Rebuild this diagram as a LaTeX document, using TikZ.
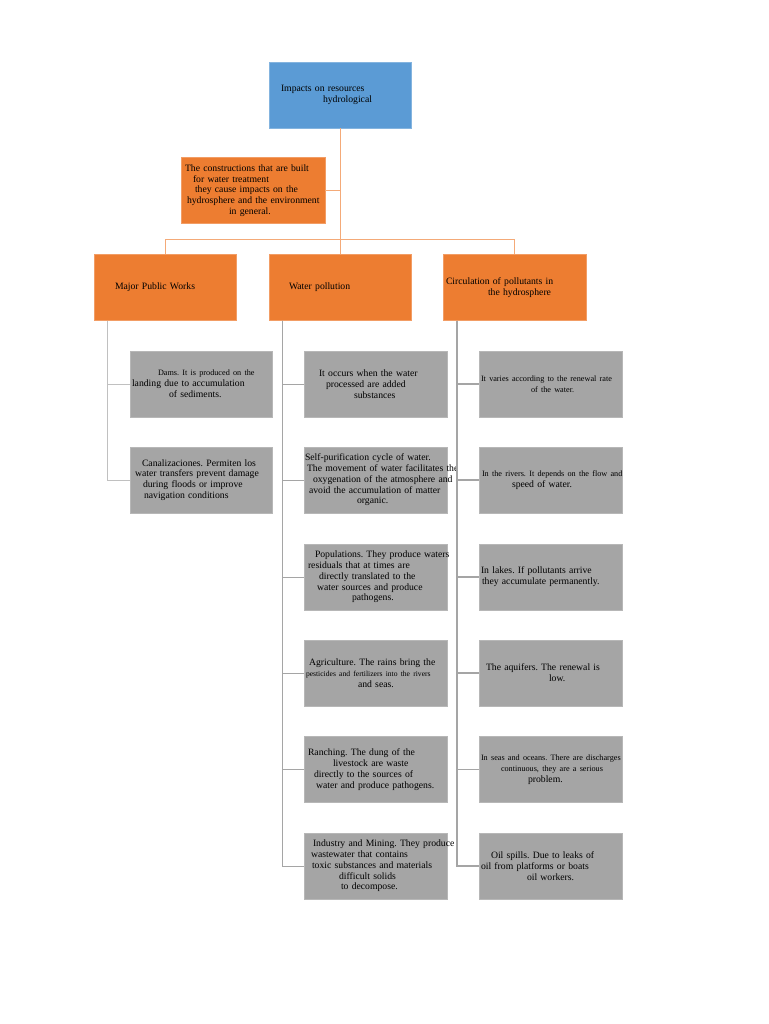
\documentclass[tikz,border=0pt]{standalone}
\usepackage{fontspec}
\setmainfont{Liberation Serif}
\usetikzlibrary{calc}
\definecolor{boxblue}{HTML}{5B9BD5}
\definecolor{boxorange}{HTML}{ED7D31}
\definecolor{boxgrey}{HTML}{A5A5A5}
\definecolor{lineorange}{HTML}{F4AA78}
\definecolor{linegrey}{HTML}{A5A5A5}
\newcommand{\wline}[2]{\mbox{\hspace{#1pt}#2}}
\newcommand{\smallsz}{\fontsize{8.2}{10}\selectfont}
\newcommand{\tinysz}{\fontsize{7.6}{10}\selectfont}

\begin{document}
\begin{tikzpicture}[x=1pt,y=-1pt,
  box/.style={minimum height=66pt, text width=142pt, minimum width=142pt, inner xsep=0pt, inner ysep=0pt, align=left, font=\fontsize{9.7}{10.8}\selectfont\frenchspacing},
  bluebox/.style={box, fill=boxblue, draw=boxblue!75!white},
  orbox/.style={box, fill=boxorange, draw=boxorange!75!white},
  greybox/.style={box, fill=boxgrey, draw=boxgrey!80!white},
  oline/.style={draw=lineorange, line width=1pt},
  gline/.style={draw=linegrey, line width=1pt}]
\useasboundingbox (0,0) rectangle (768,1024);
% top of the chart
\node[bluebox] (imp) at (340,95) {\wline{12}{Impacts on resources}\\\wline{54}{hydrological}};
\node[orbox, text width=144pt, minimum width=144pt] (cons) at (253,190.5) {\wline{4}{The constructions that are built}\\\wline{12}{for water treatment}\\\wline{14}{they cause impacts on the}\\\wline{6}{hydrosphere and the environment}\\\wline{48}{in general.}};
\node[orbox] (mpw) at (165,287.5) {\wline{21}{Major Public Works}};
\node[orbox] (wp) at (340,287.5) {\wline{20}{Water pollution}};
\node[orbox, text width=143pt, minimum width=143pt] (circ) at (514.5,287.5) {\wline{3}{Circulation of pollutants in}\\\wline{45}{the hydrosphere}};
\coordinate (split) at (340,239);
\draw[oline] (imp.south) -- (split);
\draw[oline] (cons.east) -- (cons.east -| imp.south);
\draw[oline] (split) -| (mpw.north);
\draw[oline] (split) -- (wp.north);
\draw[oline] (split) -| (circ.north);
% major public works
\node[greybox] (d1) at (201,384) {\wline{28}{\smallsz Dams. It is produced on the}\\\wline{2}{landing due to accumulation}\\\wline{39}{of sediments.}};
\node[greybox] (d2) at (201,480) {\wline{12}{Canalizaciones. Permiten los}\\\wline{5}{water transfers prevent damage}\\\wline{13}{during floods or improve}\\\wline{14}{navigation conditions}};
% water pollution
\node[greybox, text width=143pt, minimum width=143pt] (p1) at (375.5,384) {\wline{15}{It occurs when the water}\\\wline{22}{processed are added}\\\wline{50}{substances}};
\node[greybox, text width=143pt, minimum width=143pt] (p2) at (375.5,480) {\wline{1}{Self-purification cycle of water.}\\\wline{3}{The movement of water facilitates the}\\\wline{9}{oxygenation of the atmosphere and}\\\wline{5}{avoid the accumulation of matter}\\\wline{53}{organic.}};
\node[greybox, text width=143pt, minimum width=143pt] (p3) at (375.5,577) {\wline{11}{Populations. They produce waters}\\\wline{4}{residuals that at times are}\\\wline{15}{directly translated to the}\\\wline{13}{water sources and produce}\\\wline{48}{pathogens.}};
\node[greybox, text width=143pt, minimum width=143pt] (p4) at (375.5,673) {\wline{5}{Agriculture. The rains bring the}\\\wline{2}{\tinysz pesticides and fertilizers into the rivers}\\\wline{54}{and seas.}};
\node[greybox, text width=143pt, minimum width=143pt] (p5) at (375.5,769.5) {\wline{4}{Ranching. The dung of the}\\\wline{29}{livestock are waste}\\\wline{10}{directly to the sources of}\\\wline{12}{water and produce pathogens.}};
\node[greybox, text width=143pt, minimum width=143pt] (p6) at (375.5,866) {\wline{9}{Industry and Mining. They produce}\\\wline{7}{wastewater that contains}\\\wline{8}{toxic substances and materials}\\\wline{35}{difficult solids}\\\wline{37}{to decompose.}};
% circulation of pollutants
\node[greybox, text width=143pt, minimum width=143pt] (c1) at (550.5,384) {\wline{2}{\smallsz It varies according to the renewal rate}\\\wline{52}{\smallsz of the water.}};
\node[greybox, text width=143pt, minimum width=143pt] (c2) at (550.5,480) {\wline{3}{\smallsz In the rivers. It depends on the flow and}\\\wline{33}{speed of water.}};
\node[greybox, text width=143pt, minimum width=143pt] (c3) at (550.5,577) {\wline{2}{In lakes. If pollutants arrive}\\\wline{3}{they accumulate permanently.}};
\node[greybox, text width=143pt, minimum width=143pt] (c4) at (550.5,673) {\wline{7}{The aquifers. The renewal is}\\\wline{70}{low.}};
\node[greybox, text width=143pt, minimum width=143pt] (c5) at (550.5,769.5) {\wline{2}{\smallsz In seas and oceans. There are discharges}\\\wline{22}{\smallsz continuous, they are a serious}\\\wline{49}{problem.}};
\node[greybox, text width=143pt, minimum width=143pt] (c6) at (550.5,866) {\wline{12}{Oil spills. Due to leaks of}\\\wline{2}{oil from platforms or boats}\\\wline{48}{oil workers.}};
% grey connectors
\foreach \n in {d1,d2}
  \draw[gline, draw=linegrey!70!white, line width=0.8pt] ($(mpw.south west)+(14,0)$) |- (\n.west);
\foreach \n in {p1,p2,p3,p4,p5,p6}
  \draw[gline] ($(wp.south west)+(14,0)$) |- (\n.west);
\foreach \n in {c1,c2,c3,c4,c5,c6}
  \draw[gline, line width=1.8pt] ($(circ.south west)+(14,0)$) |- (\n.west);
\end{tikzpicture}
\end{document}
